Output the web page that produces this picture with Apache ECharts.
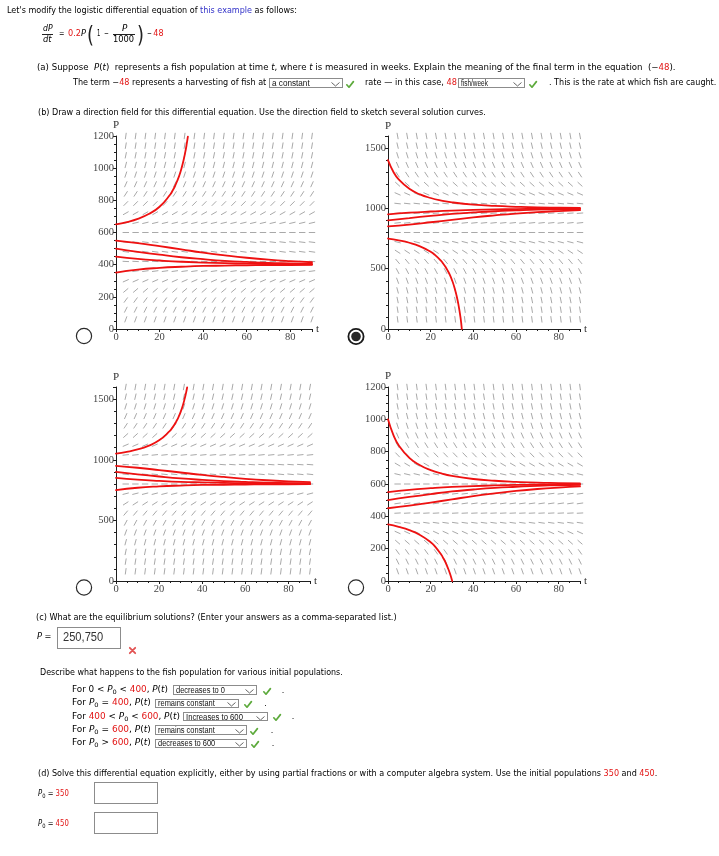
<!DOCTYPE html>
<html><head><meta charset="utf-8">
<script src="https://cdn.jsdelivr.net/npm/echarts@6/dist/echarts.min.js"></script>
<style>
html,body{margin:0;padding:0;background:#fff;}
#page{position:relative;width:719px;height:856px;overflow:hidden;background:#fff;}
#chart{position:absolute;left:0;top:0;width:719px;height:856px;}
.t{position:absolute;white-space:nowrap;font-family:"DejaVu Sans",Verdana,sans-serif;font-size:8px;color:#000;line-height:1.2;transform-origin:0 50%;}
.r{color:#e21414;}
.b{color:#3030c8;}
.box{position:absolute;border:1px solid #8c8c8c;background:#fff;box-sizing:border-box;overflow:hidden;}
.dd{position:absolute;left:2px;top:50%;font-family:"Liberation Sans",Arial,sans-serif;font-size:8.4px;color:#111;white-space:nowrap;transform-origin:0 50%;}
sub{font-size:0.75em;vertical-align:-0.3em;line-height:0;}
svg.ic{position:absolute;overflow:visible;}
</style></head>
<body><div id="page"><div id="chart"></div></div>
<script>
// ---------- data ----------
const fieldT = [4.5, 9, 13.5, 18, 22.5, 27, 31.5, 36, 40.5, 45, 49.5, 54, 58.5, 63, 67.5, 72, 76.5, 81, 85.5, 90];
// rows (P values) and slopes (dP/dt read per row) for each panel
const rowsA = [60,120,180,240,300,360,420,480,540,600,660,720,780,840,900,960,1020,1080,1140,1200];
const slopesTL = [36.7,26.9,18.5,11.5,6,1.9,-0.7,-1.9,-1.7,0,3.1,7.7,13.7,21.1,30,40.3,52.1,65.3,79.9,96];
const slopesBR = [-36.7,-26.9,-18.5,-11.5,-6,-1.9,0.7,1.9,1.7,0,-3.1,-7.7,-13.7,-21.1,-30,-40.3,-52.1,-65.3,-79.9,-96];
const rowsB = [80,160,240,320,400,480,560,640,720,800,880,960,1040,1120,1200,1280,1360,1440,1520,1600];
const slopesTR = [-132.5,-107.5,-85.1,-65.3,-48,-33.3,-21.1,-11.5,-4.5,0,1.9,1.3,-1.9,-7.7,-16,-26.9,-40.3,-56.3,-74.9,-96];
const slopesBL = [132.5,107.5,85.1,65.3,48,33.3,21.1,11.5,4.5,0,-1.9,-1.3,1.9,7.7,16,26.9,40.3,56.3,74.9,96];

// solution curves [t, P]
const tl350 = [[0,350],[10,369],[20,380],[30,387],[40,392],[50,394],[60,396],[70,398],[80,398],[90,399]];
const tl450 = [[0,450],[10,436],[20,426],[30,418],[40,413],[50,409],[60,406],[70,404],[80,403],[90,402]];
const tl500 = [[0,500],[10,480],[20,462],[30,446],[40,434],[50,424],[60,417],[70,411],[80,408],[90,405]];
const tl550 = [[0,550],[10,534],[20,515],[30,495],[40,475],[50,458],[60,443],[70,431],[80,422],[90,415]];
const tl650 = [[0,650],[5,665],[10,685],[15,715],[20,760],[25,838],[26,861],[27,886],[28,917],[29,952],[30,995],[31,1048],[32,1113],[32.5,1152],[33,1196]];

const tr750 = [[0,750],[5,735],[10,715],[15,685],[20,640],[22,614],[25,562],[26,539],[27,514],[28,483],[29,448],[30,405],[31,353],[32,287],[33,204],[34,95],[34.6,0]];
const tr850 = [[0,850],[10,866],[20,885],[30,905],[40,925],[50,942],[60,957],[70,969],[80,978],[90,985]];
const tr900 = [[0,900],[10,920],[20,938],[30,954],[40,966],[50,976],[60,983],[70,989],[80,992],[90,995]];
const tr950 = [[0,950],[10,964],[20,974],[30,982],[40,987],[50,991],[60,994],[70,996],[80,997],[90,998]];
const tr1400 = [[0,1400],[2.5,1304],[5,1240],[10,1162],[15,1116],[20,1086],[25,1065],[30,1050],[40,1031],[50,1020],[60,1013],[70,1008],[80,1006],[90,1004]];

const bl750 = [[0,750],[10,769],[20,780],[30,787],[40,792],[50,794],[60,796],[70,798],[80,798],[90,799]];
const bl850 = [[0,850],[10,836],[20,826],[30,818],[40,813],[50,809],[60,806],[70,804],[80,803],[90,802]];
const bl900 = [[0,900],[10,880],[20,862],[30,846],[40,834],[50,824],[60,817],[70,811],[80,808],[90,805]];
const bl950 = [[0,950],[10,934],[20,915],[30,895],[40,875],[50,858],[60,843],[70,831],[80,822],[90,815]];
const bl1050 = [[0,1050],[5,1065],[10,1085],[15,1115],[20,1160],[25,1238],[26,1261],[27,1286],[28,1317],[29,1352],[30,1395],[31,1448],[32,1513],[32.5,1552],[33,1596]];

const br350 = [[0,350],[5,335],[10,315],[15,285],[20,240],[22,214],[25,162],[26,139],[27,114],[28,83],[29,48],[30,5],[30.1,0]];
const br450 = [[0,450],[10,466],[20,485],[30,505],[40,525],[50,542],[60,557],[70,569],[80,578],[90,585]];
const br500 = [[0,500],[10,520],[20,538],[30,554],[40,566],[50,576],[60,583],[70,589],[80,592],[90,595]];
const br550 = [[0,550],[10,564],[20,574],[30,582],[40,587],[50,591],[60,594],[70,596],[80,597],[90,598]];
const br1000 = [[0,1000],[2.5,904],[5,840],[10,762],[15,716],[20,686],[25,665],[30,650],[40,631],[50,620],[60,613],[70,608],[80,606],[90,604]];

const xLabels = [0,20,40,60,80];
const yMaxes = [1200,1600,1600,1200];
const yIntervals = [200,500,500,200];

// ---------- chart ----------
const panels = [
  {grid:{left:116, top:136, width:196, height:193}, rows:rowsA, slopes:slopesTL, curves:[tl350,tl450,tl500,tl550,tl650], minor:4},
  {grid:{left:388, top:136, width:192, height:193}, rows:rowsB, slopes:slopesTR, curves:[tr750,tr850,tr900,tr950,tr1400], minor:5},
  {grid:{left:116, top:387, width:194, height:194}, rows:rowsB, slopes:slopesBL, curves:[bl750,bl850,bl900,bl950,bl1050], minor:5},
  {grid:{left:388, top:387, width:192, height:194}, rows:rowsA, slopes:slopesBR, curves:[br350,br450,br500,br550,br1000], minor:4}
];
const labelFont = {fontFamily:'Liberation Serif, serif', fontSize:10.5, color:'#454545'};
const grids=[], xAxes=[], yAxes=[], series=[];
function fieldItem(params, api){
  const t=api.value(0), p=api.value(1), s=api.value(2);
  const a=api.coord([t,p]), b=api.coord([t+1,p+s]);
  let dx=b[0]-a[0], dy=b[1]-a[1]; const n=Math.hypot(dx,dy)||1; dx/=n; dy/=n;
  const L=3.2;
  return {type:'line', shape:{x1:a[0]-dx*L,y1:a[1]-dy*L,x2:a[0]+dx*L,y2:a[1]+dy*L}, style:{stroke:'#a9a9a9', lineWidth:1}};
}
panels.forEach((pn,i)=>{
  grids.push(pn.grid);
  xAxes.push({gridIndex:i,type:'value',min:0,max:90,interval:20,name:'t',nameLocation:'end',nameGap:4,
    nameTextStyle:Object.assign({},labelFont,{fontSize:11,color:'#333',verticalAlign:'middle'}),
    axisLine:{lineStyle:{color:'#1e1e1e',width:1}},
    axisTick:{length:3,lineStyle:{color:'#1e1e1e'}},
    minorTick:{show:true,splitNumber:4,length:2,lineStyle:{color:'#1e1e1e'}},
    axisLabel:Object.assign({},labelFont,{margin:3,showMaxLabel:false,formatter:v=>xLabels.indexOf(v)>=0?String(v):''}),
    splitLine:{show:false}});
  yAxes.push({gridIndex:i,type:'value',min:0,max:yMaxes[i],interval:yIntervals[i],name:'P',nameLocation:'end',nameGap:4,
    nameTextStyle:Object.assign({},labelFont,{fontSize:11,color:'#333',align:'center'}),
    axisLine:{lineStyle:{color:'#1e1e1e',width:1}},
    axisTick:{length:3,lineStyle:{color:'#1e1e1e'}},
    minorTick:{show:true,splitNumber:pn.minor,length:2,lineStyle:{color:'#1e1e1e'}},
    axisLabel:Object.assign({},labelFont,{margin:2,showMaxLabel:yMaxes[i]%yIntervals[i]===0,formatter:v=>String(v)}),
    splitLine:{show:false}});
  const fd=[];
  fieldT.forEach(t=>pn.rows.forEach((p,k)=>fd.push([t,p,pn.slopes[k]])));
  series.push({type:'custom',xAxisIndex:i,yAxisIndex:i,renderItem:fieldItem,data:fd,clip:false,silent:true,z:1,
    encode:{x:0,y:1},dimensions:['t','P','s']});
  pn.curves.forEach(c=>series.push({type:'line',xAxisIndex:i,yAxisIndex:i,data:c,smooth:0.5,
    showSymbol:false,symbol:'none',lineStyle:{color:'#ee1111',width:1.8,cap:'round',join:'round'},z:3,silent:true,clip:true}));
});
const radios=[[84,336,false],[356,336.5,true],[84,587.5,false],[356,587.5,false]];
const graphic=[];
radios.forEach(r=>{
  graphic.push({type:'circle',shape:{cx:r[0],cy:r[1],r:7.6},style:{fill:'#fff',stroke:r[2]?'#1a1a1a':'#2a2a2a',lineWidth:r[2]?1.8:1.2}});
  if(r[2]) graphic.push({type:'circle',shape:{cx:r[0],cy:r[1],r:4.8},style:{fill:'#262626'}});
});
const chart=echarts.init(document.getElementById('chart'),null,{renderer:'canvas'});
chart.setOption({animation:false,backgroundColor:'#fff',grid:grids,xAxis:xAxes,yAxis:yAxes,series:series,graphic:graphic});

// ---------- text ----------
const page=document.getElementById('page');
function T(x,y,html,w,extra){
  const d=document.createElement('div'); d.className='t'; d.innerHTML=html;
  if(extra) Object.assign(d.style,extra);
  d.style.left=x+'px'; page.appendChild(d);
  d.style.top=(y-d.offsetHeight/2)+'px';
  if(w){const mw=d.scrollWidth; d.style.transform='scaleX('+(w/mw)+')';}
  return d;
}
function BOX(x1,x2,y1,y2){const b=document.createElement('div');b.className='box';
  Object.assign(b.style,{left:x1+'px',top:y1+'px',width:(x2-x1)+'px',height:(y2-y1)+'px'});page.appendChild(b);return b;}
function BAR(x1,x2,y){const b=document.createElement('div');
  Object.assign(b.style,{position:'absolute',left:x1+'px',top:(y-0.5)+'px',width:(x2-x1)+'px',height:'1px',background:'#222'});page.appendChild(b);}
function DD(x1,x2,yc,label,tw){
  const b=BOX(x1,x2,yc-4.7,yc+4.7);
  const s=document.createElement('div');s.className='dd';s.textContent=label;b.appendChild(s);
  const mw=s.scrollWidth; s.style.transform='translateY(-50%) scaleX('+(tw/mw)+')';
  const w=x2-x1;
  b.insertAdjacentHTML('beforeend','<svg style="position:absolute;left:'+(w-13)+'px;top:2.5px" width="9" height="5"><polyline points="0.5,0.5 4.5,4 8.5,0.5" fill="none" stroke="#555" stroke-width="0.9"/></svg>');
}
function CK(x,y){page.insertAdjacentHTML('beforeend','<svg class="ic" style="left:'+(x-4)+'px;top:'+(y-3.5)+'px" width="8" height="7"><path d="M0.8,3.8 L3,6.2 L7.4,0.6" fill="none" stroke="#5daa3c" stroke-width="1.7" stroke-linecap="round" stroke-linejoin="round"/></svg>');}
function XM(x,y){page.insertAdjacentHTML('beforeend','<svg class="ic" style="left:'+(x-3.5)+'px;top:'+(y-3.5)+'px" width="7" height="7"><path d="M0.8,0.8 L6.2,6.2 M6.2,0.8 L0.8,6.2" fill="none" stroke="#e25252" stroke-width="1.8" stroke-linecap="round"/></svg>');}
const Pt='<i>P</i>(<i>t</i>)', P0='<i>P</i><sub>0</sub>';

T(7,11,"Let's modify the logistic differential equation of <span class='b'>this example</span> as follows:",290);
// equation
T(42.7,29.3,"<i>dP</i>",9.6);
BAR(41.7,53.3,34);
T(43.3,40,"<i>dt</i>",8.4);
T(59.3,34,"=",5.7);
T(67.7,34,"<span class='r'>0.2</span><i>P</i>",18.3);
T(87,35.5,"(",7,{fontSize:'23px',color:'#222'});
T(96.7,34,"1",3.3);
T(104,34,"\u2212",5);
T(122,29.3,"<i>P</i>",5.5);
BAR(112.7,135,34);
T(113.3,40,"1000",20.7);
T(136.5,35.5,")",7,{fontSize:'23px',color:'#222'});
T(146.7,34,"\u2212",5);
T(153.3,34,"<span class='r'>48</span>",10);

T(36.7,68,"(a) Suppose&nbsp; "+Pt+"&nbsp; represents a fish population at time <i>t</i>, where <i>t</i> is measured in weeks. Explain the meaning of the final term in the equation&nbsp; (\u2212<span class='r'>48</span>).",639);
T(72.5,83,"The term \u2212<span class='r'>48</span> represents a harvesting of fish at",193);
DD(268.7,342.7,83,"a constant",38); CK(350,84.3);
T(364.7,83,"rate \u2014 in this case, <span class='r'>48</span>",92);
DD(458,525,83,"fish/week",27); CK(532.5,84.3);
T(549,83,". This is the rate at which fish are caught.",167);
T(38,113,"(b) Draw a direction field for this differential equation. Use the direction field to sketch several solution curves.",448);

T(35.7,618,"(c) What are the equilibrium solutions? (Enter your answers as a comma-separated list.)",361);
T(37.3,637,"<i>P</i> =",14.4);
BOX(57.3,120.7,626.7,648.7);
T(63.3,637.5,"250,750",40,{fontFamily:"'Liberation Sans',Arial,sans-serif",fontSize:'12.5px',color:'#333'});
XM(132.3,650.2);
T(40,672.7,"Describe what happens to the fish population for various initial populations.",302.7);
const rowsTxt=[
  ["For 0 &lt; "+P0+" &lt; <span class='r'>400</span>, "+Pt,96,173.3,257.3,"decreases to 0",266.7,281.7,690,49],
  ["For "+P0+" = <span class='r'>400</span>, "+Pt,78.7,155.3,239.3,"remains constant",248.3,264.3,703.3,57],
  ["For <span class='r'>400</span> &lt; "+P0+" &lt; <span class='r'>600</span>, "+Pt,107.7,183.3,267.7,"Increases to 600",276.7,291.7,716.7,57],
  ["For "+P0+" = <span class='r'>600</span>, "+Pt,78.7,155.3,246.7,"remains constant",254.3,270.7,730,57],
  ["For "+P0+" &gt; <span class='r'>600</span>, "+Pt,78.7,155.3,246.7,"decreases to 600",255,271.7,743.3,57]
];
rowsTxt.forEach(r=>{T(72.3,r[7],r[0],r[1]);DD(r[2],r[3],r[7],r[4],r[8]);CK(r[5],r[7]+1);T(r[6],r[7]+0.5,".");});

T(38,774,"(d) Solve this differential equation explicitly, either by using partial fractions or with a computer algebra system. Use the initial populations <span class='r'>350</span> and <span class='r'>450</span>.",619);
T(38,794.3,P0+" = <span class='r'>350</span>",31);
BOX(94,158,782.3,804.3);
T(38,824.3,P0+" = <span class='r'>450</span>",31);
BOX(94,158,812.3,834.3);
</script></body></html>
